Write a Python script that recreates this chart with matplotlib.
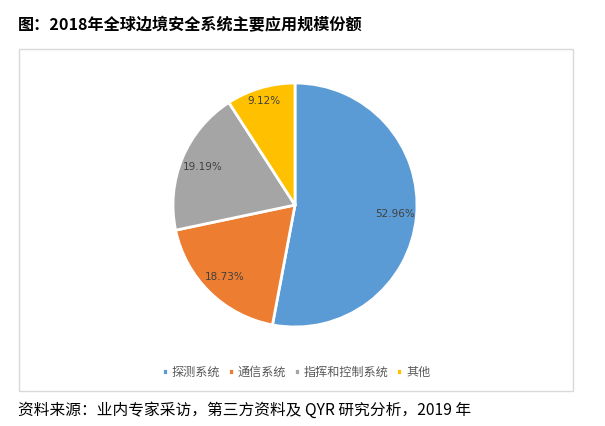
import matplotlib.pyplot as plt
from matplotlib.patches import Rectangle

plt.rcParams["font.family"] = ["Noto Sans CJK SC", "DejaVu Sans"]

categories = ["探测系统", "通信系统", "指挥和控制系统", "其他"]
shares = [52.96, 18.73, 19.19, 9.12]
colors = ["#5B9BD5", "#ED7D31", "#A5A5A5", "#FFC000"]

title = "图：2018年全球边境安全系统主要应用规模份额"
source = "资料来源：业内专家采访，第三方资料及 QYR 研究分析，2019 年"

W, H = 605, 426
fig = plt.figure(figsize=(W / 100, H / 100), dpi=100)

# light grey chart frame
fig.patches.append(Rectangle((19 / W, 1 - 391 / H), 554 / W, 342 / H,
                             transform=fig.transFigure, fill=False,
                             edgecolor="#d9d9d9", linewidth=1))

# pie centred at (295, 205) px, radius 122 px
cx, cy, r = 295, 205, 122
ax = fig.add_axes([(cx - r) / W, 1 - (cy + r) / H, 2 * r / W, 2 * r / H])
wedges, _, autotexts = ax.pie(
    shares, colors=colors, startangle=90, counterclock=False,
    autopct=lambda p: f"{p:.2f}%", pctdistance=0.82,
    wedgeprops=dict(edgecolor="white", linewidth=2),
    textprops=dict(color="#404040", fontsize=7.5, family="DejaVu Sans"),
)
# the small slice label sits a bit further out
x, y = autotexts[3].get_position()
autotexts[3].set_position((x * 0.89 / 0.82, y * 0.89 / 0.82))
ax.set_xlim(-1, 1)
ax.set_ylim(-1, 1)
ax.set_aspect("equal")

fig.legend(wedges, categories, loc="center", bbox_to_anchor=(296 / W, 1 - 372 / H),
           ncol=4, frameon=False, fontsize=8.7, handlelength=0.5, handleheight=0.5,
           handletextpad=0.35, columnspacing=0.6, labelcolor="#595959")

fig.text(18 / W, 1 - 25 / H, title, fontsize=11.6, fontweight="bold",
         va="center", ha="left", color="black")
fig.text(18 / W, 1 - 410 / H, source, fontsize=11.3, va="center", ha="left",
         color="black")

fig.savefig("out.png", dpi=100)
